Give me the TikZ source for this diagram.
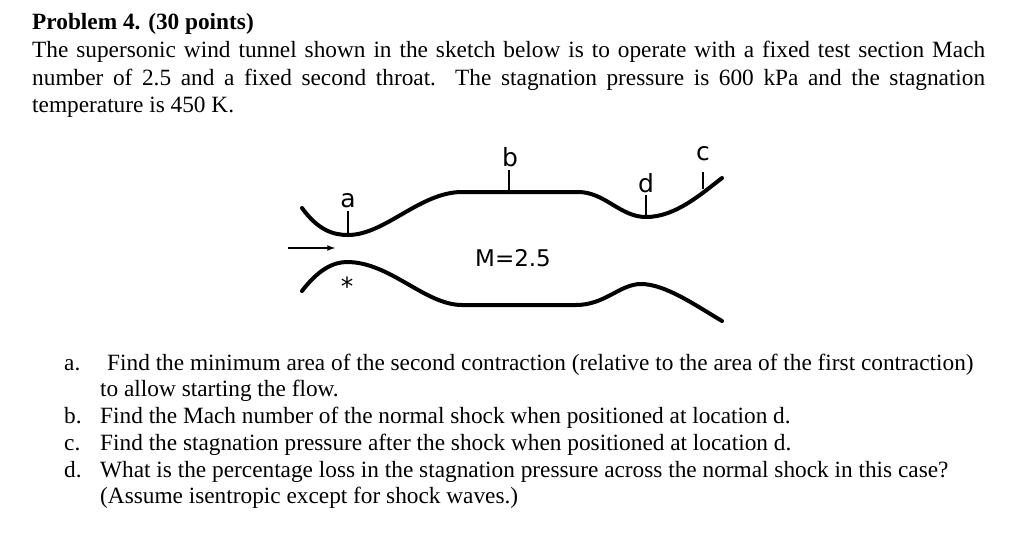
\documentclass[tikz,border=0pt]{standalone}
\usepackage{fontspec}
\setmainfont{Liberation Serif}
\newfontfamily\sketchfont{DejaVu Sans}
\begin{document}
\begin{tikzpicture}[x=1pt,y=-1pt,
  wall/.style={line width=4pt,line cap=round},
  tick/.style={line width=1.6pt},
  txt/.style={anchor=base west,inner sep=0pt,font=\fontsize{23.3}{27}\selectfont},
  lbl/.style={anchor=base,font=\sketchfont\fontsize{25}{28}\selectfont,inner sep=0pt}]
\useasboundingbox (0,0) rectangle (1024,536);
% text
\node[txt] (t0) at (32,29) {\textbf{Problem 4. (30 points)}};
\node[txt] (t1) at (32,57) {\makebox[953pt][s]{The supersonic wind tunnel shown in the sketch below is to operate with a fixed test section Mach}};
\node[txt] (t2) at (32,85) {\makebox[953pt][s]{number of 2.5 and a fixed second throat. The stagnation pressure is 600 kPa and the stagnation}};
\node[txt] (t3) at (32,112) {temperature is 450 K.};
\node[txt] (la) at (64,370) {a.};
\node[txt] (qa) at (107,370) {Find the minimum area of the second contraction (relative to the area of the first contraction)};
\node[txt] (qa2) at (100,396) {to allow starting the flow.};
\node[txt] (lb) at (64,423) {b.};
\node[txt] (qb) at (100,423) {Find the Mach number of the normal shock when positioned at location d.};
\node[txt] (lc) at (64,450) {c.};
\node[txt] (qc) at (100,450) {Find the stagnation pressure after the shock when positioned at location d.};
\node[txt] (ld) at (64,477) {d.};
\node[txt] (qd) at (100,477) {What is the percentage loss in the stagnation pressure across the normal shock in this case?};
\node[txt] (qd2) at (100,503) {(Assume isentropic except for shock waves.)};
% sketch
\coordinate (pa) at (348,235);
\coordinate (pb) at (509,192);
\coordinate (pd) at (646,217);
\coordinate (pc) at (703,189);
\draw[wall] (302,208) .. controls (318,230) and (333,235) .. (pa)
  .. controls (385,235) and (420,192) .. (462,192) -- (578,192)
  .. controls (605,192) and (620,217) .. (pd)
  .. controls (675,217) and (700,195) .. (722,178);
\draw[wall] (302,291) .. controls (318,270) and (333,262) .. (347,262)
  .. controls (390,262) and (425,305) .. (462,305) -- (576,305)
  .. controls (605,305) and (620,284) .. (641,284)
  .. controls (665,284) and (695,305) .. (722,321);
\coordinate (ta) at (348,211);
\coordinate (tb) at (509,170);
\coordinate (td) at (646,195);
\coordinate (tc) at (703,172);
\draw[tick] (pa) -- (ta);
\draw[tick] (pb) -- (tb);
\draw[tick] (pd) -- (td);
\draw[tick] (pc) -- (tc);
\node[lbl] (na) at (348,207) {a};
\node[lbl] (nb) at (510,166) {b};
\node[lbl] (nd) at (646,192) {d};
\node[lbl] (nc) at (703,160) {c};
\coordinate (ar0) at (288,248);
\coordinate (ar1) at (335,248);
\draw[line width=1.6pt,-latex] (ar0) -- (ar1);
\node[lbl] (star) at (347,295) {*};
\node[lbl,font=\sketchfont\fontsize{23}{26}\selectfont] (mach) at (513,266) {M=2.5};
\end{tikzpicture}
\end{document}
